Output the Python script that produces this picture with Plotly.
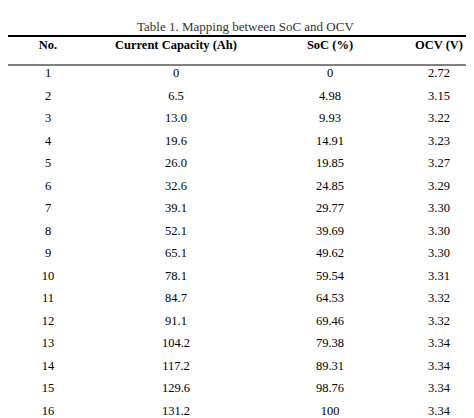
import plotly.graph_objects as go

headers = ["<b>No.</b>", "<b>Current Capacity (Ah)</b>", "<b>SoC (%)</b>", "<b>OCV (V)</b>"]
no = [str(i) for i in range(1, 17)]
capacity = ["0", "6.5", "13.0", "19.6", "26.0", "32.6", "39.1", "52.1", "65.1", "78.1", "84.7", "91.1", "104.2", "117.2", "129.6", "131.2"]
soc = ["0", "4.98", "9.93", "14.91", "19.85", "24.85", "29.77", "39.69", "49.62", "59.54", "64.53", "69.46", "79.38", "89.31", "98.76", "100"]
ocv = ["2.72", "3.15", "3.22", "3.23", "3.27", "3.29", "3.30", "3.30", "3.30", "3.31", "3.32", "3.32", "3.34", "3.34", "3.34", "3.34"]

W, H = 474, 418
font = dict(family="Liberation Serif", size=12.5, color="black")

fig = go.Figure(go.Table(
    columnwidth=[80, 176, 132, 86],
    domain=dict(x=[0, 1], y=[0, 1 - 22 / H]),
    header=dict(values=headers, align="center", height=27, font=font,
                fill_color="white", line=dict(width=0, color="white")),
    cells=dict(values=[no, capacity, soc, ocv], align="center", height=22.5, font=font,
               fill_color="white", line=dict(width=0, color="white")),
))

def hline(ypx, w):
    return dict(type="line", xref="paper", yref="paper", x0=0, x1=1,
                y0=1 - ypx / H, y1=1 - ypx / H, line=dict(color="black", width=w))

fig.update_layout(
    width=W, height=H, margin=dict(l=0, r=0, t=0, b=0),
    paper_bgcolor="white", plot_bgcolor="white",
    shapes=[hline(28, 2), hline(57, 1), hline(415, 2)],
    annotations=[dict(text="Table 1. Mapping between SoC and OCV", x=0.5, y=1 - 9 / H,
                      xref="paper", yref="paper", showarrow=False,
                      font=dict(family="Liberation Serif", size=13, color="#333"))],
)
fig.write_html("out.html")
